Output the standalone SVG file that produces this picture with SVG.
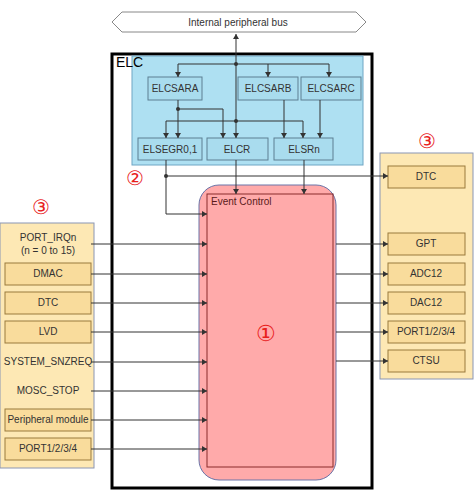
<svg xmlns="http://www.w3.org/2000/svg" width="474" height="498" viewBox="0 0 474 498">
<style>
text{font-family:"Liberation Sans",Arial,sans-serif;font-size:10px;fill:#333;text-anchor:middle}
.reg{fill:#a9dcee;stroke:#5c7f92;stroke-width:1}
.ob{fill:#f9dc9c;stroke:#9a7a3c;stroke-width:1}
.c{fill:none;stroke:#333;stroke-width:1}
.num{fill:#e8201c;font-size:20px}
</style>
<defs>
<marker id="ah" markerWidth="6" markerHeight="6" refX="5" refY="3" orient="auto" markerUnits="userSpaceOnUse">
<path d="M0,0 L5,3 L0,6 Z" fill="#333"/>
</marker>
<marker id="as" markerWidth="6" markerHeight="6" refX="0" refY="3" orient="auto" markerUnits="userSpaceOnUse">
<path d="M5,0 L0,3 L5,6 Z" fill="#333"/>
</marker>
</defs>

<g id="bus">
<polygon points="112,22 122,12 356,12 366,22 356,32 122,32" fill="#fff" stroke="#888" stroke-width="1"/>
<text x="238" y="26">Internal peripheral bus</text>
</g>

<g id="elc-frame">
<rect x="112" y="54" width="260" height="434" fill="#fff" stroke="#000" stroke-width="3"/>
<rect x="132" y="56" width="231" height="109" fill="#aee0f2" stroke="#6fa6c4" stroke-width="1"/>
<text x="116" y="67" style="text-anchor:start;font-size:14px;fill:#000">ELC</text>
</g>

<g id="left-panel">
<rect x="0" y="223" width="94" height="245" fill="#fde8b4" stroke="#8a96b4" stroke-width="1"/>
<text class="num" x="41" y="214">③</text>
<text x="48" y="241">PORT_IRQn</text>
<text x="48" y="254">(n = 0 to 15)</text>
<text x="48" y="365">SYSTEM_SNZREQ</text>
<text x="48" y="394">MOSC_STOP</text>
</g>
<g id="l-dmac"><rect class="ob" x="5" y="263" width="86" height="22"/><text x="48" y="277">DMAC</text></g>
<g id="l-dtc"><rect class="ob" x="5" y="292" width="86" height="22"/><text x="48" y="306">DTC</text></g>
<g id="l-lvd"><rect class="ob" x="5" y="321" width="86" height="22"/><text x="48" y="335">LVD</text></g>
<g id="l-periph"><rect class="ob" x="5" y="409" width="86" height="22"/><text x="48" y="423">Peripheral module</text></g>
<g id="l-port"><rect class="ob" x="5" y="438" width="86" height="22"/><text x="48" y="452">PORT1/2/3/4</text></g>

<g id="right-panel">
<rect x="380" y="153" width="93" height="226" fill="#fde8b4" stroke="#8a96b4" stroke-width="1"/>
<text class="num" x="427" y="148">③</text>
</g>
<g id="r-dtc"><rect class="ob" x="388" y="166" width="77" height="22"/><text x="426" y="180">DTC</text></g>
<g id="r-gpt"><rect class="ob" x="388" y="233" width="77" height="22"/><text x="426" y="247">GPT</text></g>
<g id="r-adc"><rect class="ob" x="388" y="263" width="77" height="22"/><text x="426" y="277">ADC12</text></g>
<g id="r-dac"><rect class="ob" x="388" y="292" width="77" height="22"/><text x="426" y="306">DAC12</text></g>
<g id="r-port"><rect class="ob" x="388" y="321" width="77" height="22"/><text x="426" y="335">PORT1/2/3/4</text></g>
<g id="r-ctsu"><rect class="ob" x="388" y="350" width="77" height="22"/><text x="426" y="364">CTSU</text></g>

<g id="elcsara"><rect class="reg" x="148" y="77" width="54" height="23"/><text x="175" y="92">ELCSARA</text></g>
<g id="elcsarb"><rect class="reg" x="238" y="77" width="60" height="23"/><text x="268" y="92">ELCSARB</text></g>
<g id="elcsarc"><rect class="reg" x="301" y="77" width="60" height="23"/><text x="331" y="92">ELCSARC</text></g>
<g id="elsegr"><rect class="reg" x="138" y="138" width="64" height="22"/><text x="170" y="153">ELSEGR0,1</text></g>
<g id="elcr"><rect class="reg" x="207" y="138" width="61" height="22"/><text x="237" y="153">ELCR</text></g>
<g id="elsrn"><rect class="reg" x="274" y="138" width="59" height="22"/><text x="304" y="153">ELSRn</text></g>

<g id="event-control">
<rect x="199" y="185" width="137" height="295" rx="20" ry="20" fill="#ffaaaa" stroke="#6a74a8" stroke-width="1"/>
<rect x="207" y="194" width="126" height="273" fill="none" stroke="#8a2a2a" stroke-width="1"/>
<text x="211" y="205" style="text-anchor:start;fill:#5a1a1a">Event Control</text>
<text class="num" x="266" y="341" style="font-size:22px">①</text>
</g>

<g id="c2"><text class="num" x="135" y="185">②</text></g>

<g id="connectors">
<path class="c" d="M236,138 V34" marker-start="url(#as)" marker-end="url(#ah)"/>
<path class="c" d="M178,64 H329"/>
<path class="c" d="M178,64 V77" marker-end="url(#ah)"/>
<path class="c" d="M268,64 V77" marker-end="url(#ah)"/>
<path class="c" d="M329,64 V77" marker-end="url(#ah)"/>
<path class="c" d="M178,100 V138" marker-end="url(#ah)"/>
<path class="c" d="M178,109 H223 V138" marker-end="url(#ah)"/>
<path class="c" d="M166,121 H303"/>
<path class="c" d="M166,121 V138" marker-end="url(#ah)"/>
<path class="c" d="M303,121 V138" marker-end="url(#ah)"/>
<path class="c" d="M284,100 V138" marker-end="url(#ah)"/>
<path class="c" d="M320,100 V138" marker-end="url(#ah)"/>
<circle cx="236" cy="64" r="2" fill="#333"/>
<circle cx="178" cy="109" r="2" fill="#333"/>
<circle cx="236" cy="121" r="2" fill="#333"/>

<path class="c" d="M166,160 V214 H207" marker-end="url(#ah)"/>
<path class="c" d="M166,176 H388" marker-end="url(#ah)"/>
<circle cx="166" cy="176" r="2" fill="#333"/>
<path class="c" d="M236,160 V194" marker-end="url(#ah)"/>
<path class="c" d="M304,160 V194" marker-end="url(#ah)"/>

<path class="c" d="M91,244 H207" marker-end="url(#ah)"/>
<path class="c" d="M91,274 H207" marker-end="url(#ah)"/>
<path class="c" d="M91,303 H207" marker-end="url(#ah)"/>
<path class="c" d="M91,332 H207" marker-end="url(#ah)"/>
<path class="c" d="M91,362 H207" marker-end="url(#ah)"/>
<path class="c" d="M91,391 H207" marker-end="url(#ah)"/>
<path class="c" d="M91,420 H207" marker-end="url(#ah)"/>
<path class="c" d="M91,449 H207" marker-end="url(#ah)"/>

<path class="c" d="M336,244 H388" marker-end="url(#ah)"/>
<path class="c" d="M336,274 H388" marker-end="url(#ah)"/>
<path class="c" d="M336,303 H388" marker-end="url(#ah)"/>
<path class="c" d="M336,332 H388" marker-end="url(#ah)"/>
<path class="c" d="M336,361 H388" marker-end="url(#ah)"/>
</g>
</svg>
